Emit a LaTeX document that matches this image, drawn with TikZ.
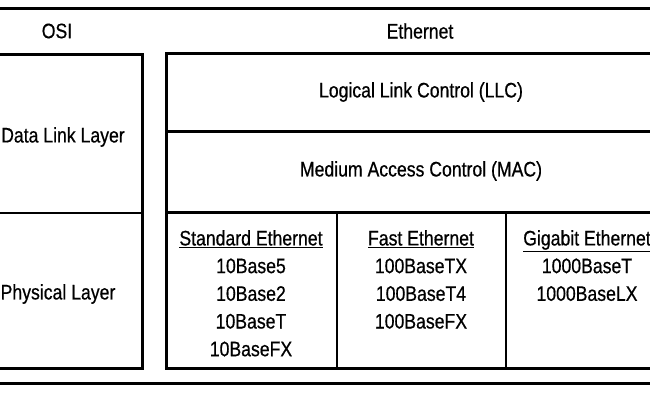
\documentclass[tikz,border=0pt]{standalone}
\usepackage{fontspec}
\setmainfont[FakeStretch=0.84,FakeBold=0.6]{Liberation Sans}
\begin{document}
\begin{tikzpicture}[x=1pt,y=-1pt,
  thickline/.style={line width=3pt},
  midline/.style={line width=2pt},
  thinline/.style={line width=1.5pt},
  lbl/.style={inner sep=0pt, font=\fontsize{21}{24}\selectfont},
  col/.style={inner sep=0pt, align=center, anchor=north, font=\fontsize{21}{27.7}\selectfont}]
\useasboundingbox (0,0) rectangle (650,400);
\clip (0,0) rectangle (650,400);
\fill[white] (0,0) rectangle (650,400);
% top and bottom rules
\draw[thickline] (-10,8) -- (660,8);
\draw[thickline] (-10,383) -- (660,383);
% OSI box
\draw[thickline] (-25,54) rectangle (142,368);
\draw[midline] (-25,213) -- (142,213);
% Ethernet box
\draw[thickline] (166,53) rectangle (676,368);
\draw[thickline] (166,131) -- (676,131);
\draw[thickline] (166,212) -- (676,212);
\draw[thinline] (337,212) -- (337,368);
\draw[thinline] (506,212) -- (506,368);
% labels
\node[lbl] (osi) at (57,31) {OSI};
\node[lbl] (eth) at (420,31) {Ethernet};
\node[lbl, anchor=west] (dll) at (1,137) {Data Link Layer};
\node[lbl] (phy) at (58,294) {Physical Layer};
\node[lbl] (llc) at (421,92) {Logical Link Control (LLC)};
\node[lbl] (mac) at (421,171) {Medium Access Control (MAC)};
\node[col] (std) at (251,230) {\underline{Standard Ethernet}\\10Base5\\10Base2\\10BaseT\\10BaseFX};
\node[col] (fast) at (421,230) {\underline{Fast Ethernet}\\100BaseTX\\100BaseT4\\100BaseFX};
\node[col] (gig) at (587,230) {\underline{Gigabit Ethernet}\\1000BaseT\\1000BaseLX};
\end{tikzpicture}
\end{document}
